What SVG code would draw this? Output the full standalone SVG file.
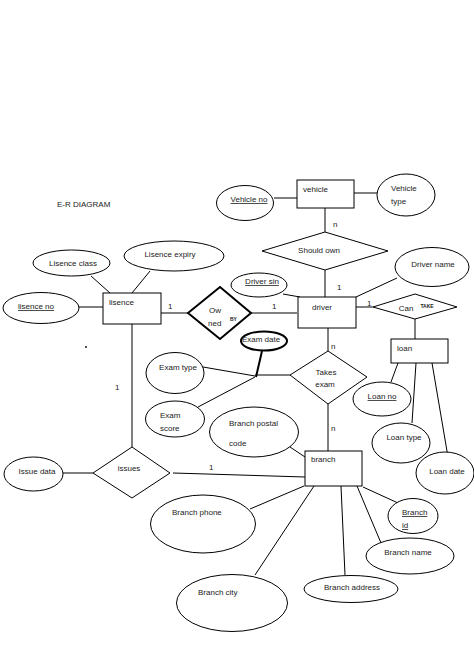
<svg xmlns="http://www.w3.org/2000/svg" width="474" height="670" viewBox="0 0 474 670">
<style>
.s{fill:#fff;stroke:#000;stroke-width:1}
.b{fill:#fff;stroke:#000;stroke-width:2}
.c line{stroke:#000;stroke-width:1}
text{font-family:"Liberation Sans",Arial,sans-serif;font-size:8px;fill:#222}
.m{text-anchor:middle}
.u{text-decoration:underline}
.k{font-size:5px;font-weight:bold}
</style>
<rect width="474" height="670" fill="#fff"/>
<text x="57" y="207">E-R DIAGRAM</text>
<circle cx="86" cy="347" r="0.9" fill="#000"/>
<g class="c" id="connectors">
<line x1="274" y1="198" x2="297" y2="198"/>
<line x1="354" y1="193" x2="377" y2="193"/>
<line x1="325" y1="208" x2="325" y2="232"/>
<line x1="325" y1="270" x2="325" y2="297"/>
<line x1="283" y1="294" x2="300" y2="297"/>
<line x1="397" y1="278" x2="356" y2="297"/>
<line x1="356" y1="307" x2="373" y2="307"/>
<line x1="415" y1="319" x2="415" y2="339"/>
<line x1="398" y1="363" x2="391" y2="382"/>
<line x1="416" y1="363" x2="412" y2="423"/>
<line x1="432" y1="363" x2="448" y2="457"/>
<line x1="328" y1="328" x2="328" y2="351"/>
<line x1="328" y1="404" x2="328" y2="451"/>
<line x1="262" y1="351" x2="256" y2="377" style="stroke-width:2"/>
<line x1="255" y1="375" x2="290" y2="375"/>
<line x1="203" y1="367" x2="255" y2="376"/>
<line x1="198" y1="407" x2="255" y2="377"/>
<line x1="290" y1="447" x2="305" y2="457"/>
<line x1="173" y1="473" x2="305" y2="477"/>
<line x1="132" y1="324" x2="132" y2="447"/>
<line x1="63" y1="473" x2="93" y2="473"/>
<line x1="79" y1="307" x2="103" y2="307"/>
<line x1="91" y1="276" x2="110" y2="293"/>
<line x1="150" y1="271" x2="132" y2="293"/>
<line x1="161" y1="313" x2="188" y2="313"/>
<line x1="251" y1="313" x2="297" y2="313"/>
<line x1="250" y1="509" x2="304" y2="486"/>
<line x1="255" y1="575" x2="314" y2="486"/>
<line x1="341" y1="486" x2="345" y2="575"/>
<line x1="357" y1="486" x2="381" y2="543"/>
<line x1="363" y1="487" x2="398" y2="503"/>
<text x="333" y="227">n</text>
<text x="337" y="290">1</text>
<text x="367" y="306">1</text>
<text x="331" y="349">n</text>
<text x="331" y="431">n</text>
<text x="209" y="470">1</text>
<text x="115" y="390">1</text>
<text x="168" y="309">1</text>
<text x="272" y="309">1</text>
</g>
<g id="vehicle"><rect class="s" x="297" y="180" width="57" height="28"/><text x="303" y="192">vehicle</text></g>
<g id="vehicle_no"><ellipse class="s" cx="245" cy="203" rx="28.5" ry="17.5"/><text class="m u" x="249" y="202">Vehicle no</text></g>
<g id="vehicle_type"><ellipse class="s" cx="406" cy="195" rx="29" ry="21"/><text x="391" y="191">Vehicle</text><text x="391" y="204">type</text></g>
<g id="should_own"><polygon class="s" points="262,251 325,232 388,251 325,270"/><text class="m" x="319" y="253">Should own</text></g>
<g id="driver"><rect class="s" x="298" y="297" width="58" height="31"/><text x="312" y="310">driver</text></g>
<g id="driver_sin"><ellipse class="s" cx="259" cy="285" rx="28" ry="12"/><text class="m u" x="262" y="284">Driver sin</text></g>
<g id="driver_name"><ellipse class="s" cx="432" cy="267" rx="37" ry="19.5"/><text class="m" x="433" y="267">Driver name</text></g>
<g id="can_take"><polygon class="s" points="373,307 415,294 457,307 415,319"/><text class="m" x="406" y="311">Can</text><text class="m k" x="427" y="308">TAKE</text></g>
<g id="loan"><rect class="s" x="391" y="339" width="57" height="24"/><text x="397" y="351">loan</text></g>
<g id="loan_no"><ellipse class="s" cx="382" cy="399" rx="29" ry="17"/><text class="m u" x="382" y="399">Loan no</text></g>
<g id="loan_type"><ellipse class="s" cx="401" cy="443" rx="29" ry="20"/><text class="m" x="404" y="440">Loan type</text></g>
<g id="loan_date"><ellipse class="s" cx="445" cy="473" rx="29" ry="21"/><text class="m" x="447" y="474">Loan date</text></g>
<g id="lisence"><rect class="s" x="103" y="293" width="58" height="31"/><text x="109" y="305">lisence</text></g>
<g id="lisence_no"><ellipse class="s" cx="41" cy="308" rx="38" ry="15.5"/><text class="m u" x="36" y="309">lisence no</text></g>
<g id="lisence_class"><ellipse class="s" cx="71.5" cy="263" rx="38.5" ry="13"/><text class="m" x="73" y="266">Lisence class</text></g>
<g id="lisence_expiry"><ellipse class="s" cx="174" cy="256" rx="50" ry="15"/><text class="m" x="170" y="257">Lisence expiry</text></g>
<g id="owned_by"><polygon class="b" points="188,313 220,287 251,313 220,339"/><text x="209" y="313">Ow</text><text x="208" y="326">ned</text><text class="k" x="230" y="321">BY</text></g>
<g id="exam_date"><ellipse class="b" cx="264" cy="341" rx="23" ry="9.5"/><text class="m" x="261" y="342">Exam date</text></g>
<g id="takes_exam"><polygon class="s" points="290,375 328,351 367,377 328,404"/><text class="m" x="326" y="375">Takes</text><text class="m" x="325" y="387">exam</text></g>
<g id="exam_type"><ellipse class="s" cx="175" cy="373" rx="29" ry="20.5"/><text class="m" x="178" y="370">Exam type</text></g>
<g id="exam_score"><ellipse class="s" cx="175" cy="419" rx="29.5" ry="18"/><text x="160" y="418">Exam</text><text x="160" y="431">score</text></g>
<g id="branch"><rect class="s" x="305" y="451" width="57" height="35"/><text x="311" y="462">branch</text></g>
<g id="branch_postal_code"><ellipse class="s" cx="254" cy="432" rx="44.5" ry="25"/><text x="229" y="426">Branch postal</text><text x="229" y="446">code</text></g>
<g id="issues"><polygon class="s" points="93,473 132,447 170,473 132,498"/><text class="m" x="129" y="471">issues</text></g>
<g id="issue_data"><ellipse class="s" cx="33.5" cy="474" rx="29.5" ry="17"/><text class="m" x="37" y="474">Issue data</text></g>
<g id="branch_phone"><ellipse class="s" cx="203" cy="524" rx="52.5" ry="29"/><text x="172" y="515">Branch phone</text></g>
<g id="branch_city"><ellipse class="s" cx="232" cy="603" rx="55.5" ry="28.5"/><text x="198" y="595">Branch city</text></g>
<g id="branch_address"><ellipse class="s" cx="351" cy="589" rx="47" ry="13.5"/><text class="m" x="352" y="590">Branch address</text></g>
<g id="branch_name"><ellipse class="s" cx="410" cy="556" rx="44" ry="18"/><text class="m" x="408" y="555">Branch name</text></g>
<g id="branch_id"><ellipse class="s" cx="413" cy="516" rx="25" ry="17.5"/><text class="u" x="402" y="515">Branch</text><text class="u" x="402" y="528">id</text></g>
</svg>
